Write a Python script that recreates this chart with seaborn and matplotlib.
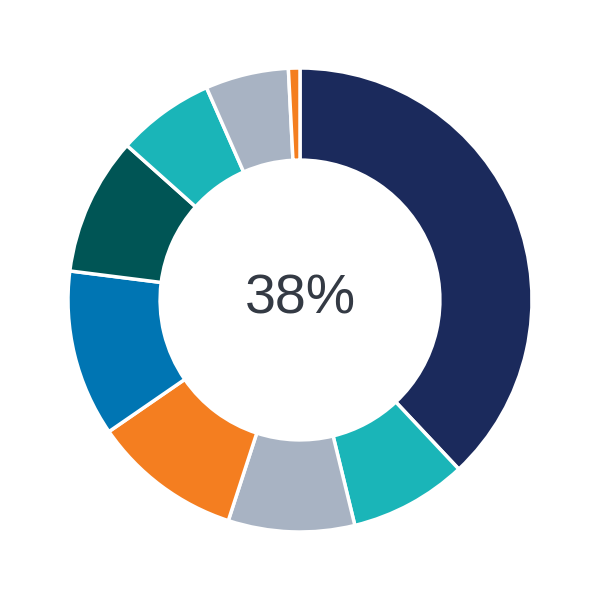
import matplotlib
matplotlib.use("Agg")
import matplotlib.pyplot as plt
import seaborn as sns

sns.set_theme(style="white")
plt.rcParams['font.family'] = ['Liberation Sans', 'DejaVu Sans']

categories = ["A", "B", "C", "D", "E", "F", "G", "H", "I"]
values = [38.0, 8.2, 8.8, 10.4, 11.6, 9.6, 6.8, 5.8, 0.8]
colors = ["#1B2A5C", "#1AB5B8", "#A8B3C3", "#F47E20", "#0075B3",
          "#005555", "#1AB5B8", "#A8B3C3", "#F47E20"]
center_label = "38%"

fig = plt.figure(figsize=(6, 6), dpi=100)
ax = fig.add_axes([0, 0, 1, 1])
ax.pie(values, colors=colors, startangle=90, counterclock=False,
       radius=1.0,
       wedgeprops=dict(width=0.397, edgecolor="white", linewidth=2.5))
ax.text(0, 0, center_label, ha="center", va="center", fontsize=40,
        color="#343a44")
lim = 300 / 232
ax.set_xlim(-lim, lim)
ax.set_ylim(-lim, lim)
ax.set_aspect("equal")
ax.axis("off")
fig.savefig("out.png", dpi=100, facecolor="white")
